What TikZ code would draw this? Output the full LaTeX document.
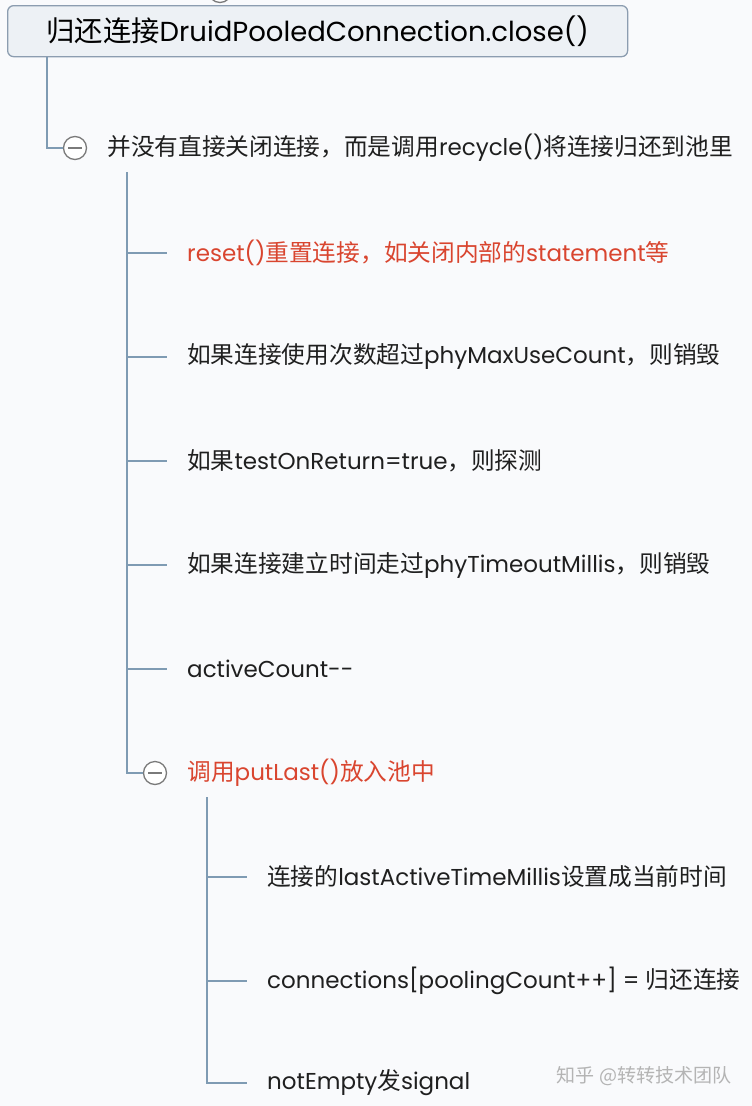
\documentclass[tikz,border=0pt]{standalone}
\usepackage{fontspec}
\setmainfont{Poppins}
\newfontfamily\cjk[Scale=1.03]{Noto Sans CJK SC}
\usetikzlibrary{positioning}
\definecolor{bgcol}{HTML}{F9FAFC}
\definecolor{rootfill}{HTML}{EDF1F5}
\definecolor{rootdraw}{HTML}{8C9DB0}
\definecolor{linkcol}{HTML}{7F9BB3}
\definecolor{togglecol}{HTML}{7A7A7A}
\definecolor{redtext}{HTML}{D9452F}
\definecolor{marktext}{HTML}{B4B4B4}
\newcommand{\zh}[1]{{\cjk #1}}
\tikzset{
  rootbox/.style={rectangle, rounded corners=6pt, draw=rootdraw, line width=1.3pt, fill=rootfill, minimum width=620pt, minimum height=51pt, font=\fontsize{27.5}{32}\selectfont},
  item/.style={anchor=west, inner sep=0pt, text=black!88, font=\fontsize{23}{27}\selectfont},
  hot/.style={item, text=redtext},
  toggle/.style={circle, draw=togglecol, fill=white, line width=1.3pt, minimum size=23pt, inner sep=0pt,
    path picture={\draw[togglecol, line width=1.3pt] ([xshift=-7pt]path picture bounding box.center) -- ([xshift=7pt]path picture bounding box.center);}},
  link/.style={draw=linkcol, line width=1.6pt}
}
\begin{document}
\begin{tikzpicture}[x=1pt, y=-1pt]
\fill[bgcol] (0,0) rectangle (752,1106);
\useasboundingbox (0,0) rectangle (752,1106);
\clip (0,0) rectangle (752,1106);

% top of the tree
\node (top) [toggle] at (220,-9) {};
\node (root) [rootbox, anchor=north west] at (7,5) {\zh{归还连接}DruidPooledConnection.close()};

% recycle
\node (c1) [toggle] at (75,148) {};
\node (recycle) [item, right=20pt of c1] {\zh{并没有直接关闭连接，而是调用}recycle()\zh{将连接归还到池里}};
\draw [link] ([xshift=40pt]root.south west) |- (c1.west);

\coordinate (spine2) at (127,172);
\node (reset) [hot] at (187,253) {reset()\zh{重置连接，如关闭内部的}statement\zh{等}};
\node (maxuse) [item] at (187,357) {\zh{如果连接使用次数超过}phyMaxUseCount\zh{，则销毁}};
\node (onreturn) [item] at (187,461) {\zh{如果}testOnReturn=true\zh{，则探测}};
\node (timeout) [item] at (187,565) {\zh{如果连接建立时间走过}phyTimeoutMillis\zh{，则销毁}};
\node (active) [item] at (187,669) {activeCount-{}-};
\node (c2) [toggle] at (155,773) {};
\node (putlast) [hot, right=20pt of c2] {\zh{调用}putLast()\zh{放入池中}};
\draw [link] (spine2) |- (c2.west);
\foreach \n in {reset, maxuse, onreturn, timeout, active}
  \draw [link] (spine2 |- \n.west) -- ([xshift=-20pt]\n.west);

% putLast
\coordinate (spine3) at (207,797);
\node (stamp) [item] at (267,877) {\zh{连接的}lastActiveTimeMillis\zh{设置成当前时间}};
\node (store) [item] at (267,981) {connections[poolingCount++] = \zh{归还连接}};
\node (signal) [item] at (267,1083) {notEmpty\zh{发}signal};
\draw [link] (spine3) |- ([xshift=-20pt]signal.west);
\foreach \n in {stamp, store}
  \draw [link] (spine3 |- \n.west) -- ([xshift=-20pt]\n.west);

\node (mark) [anchor=east, text=marktext, font=\cjk\fontsize{18.5}{22}\selectfont] at (735,1076) {知乎 @转转技术团队};
\end{tikzpicture}
\end{document}
